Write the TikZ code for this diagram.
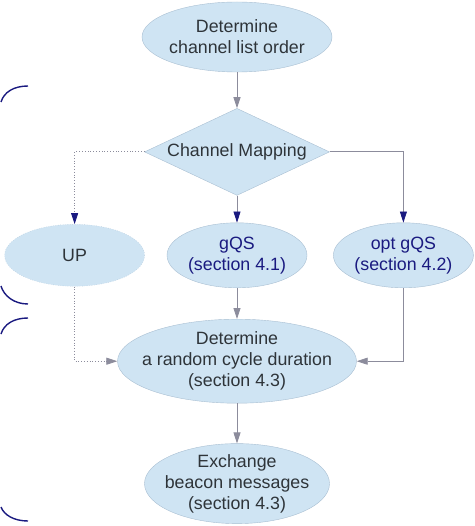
\documentclass[tikz,border=0pt]{standalone}
\usepackage{fontspec}
\setmainfont{Liberation Sans}
\usepackage{xcolor}
\usetikzlibrary{shapes.geometric, positioning, arrows.meta}

\definecolor{boxfill}{HTML}{CFE4F3}
\definecolor{boxline}{HTML}{A9BFD2}
\definecolor{txtgrey}{HTML}{2E3439}
\definecolor{navytxt}{HTML}{1A1A80}
\definecolor{linegrey}{HTML}{8C8C9C}

\tikzset{
    process/.style={ellipse, draw=boxline, fill=boxfill, text=txtgrey, align=center,
        inner xsep=-15pt, inner ysep=-6pt, font=\fontsize{17.8}{21}\selectfont},
    decision/.style={diamond, draw=boxline, fill=boxfill, text=txtgrey, align=center,
        inner sep=0pt, aspect=2.13, minimum width=185pt, minimum height=87pt,
        font=\fontsize{17.8}{21}\selectfont},
    flow/.style={draw=linegrey, line width=0.8pt, -{Triangle[length=11pt,width=7pt]}},
    flownavy/.style={flow, -{Triangle[length=11pt,width=7pt,color=navytxt]}},
    brace/.style={draw=navytxt, line width=1.4pt},
}

\begin{document}
\begin{tikzpicture}[x=1pt, y=-1pt, node distance=30pt]
    \useasboundingbox (0,0) rectangle (474,526);

    % Ablauf
    \node[process, minimum width=190pt, minimum height=70pt] (order) at (237,37)
        {Determine\\channel list order};
    \node[decision] (map) [below=36pt of order] {Channel Mapping};
    \node[process, minimum width=140pt, minimum height=65pt, text=navytxt] (gqs)
        [below=27pt of map] {gQS\\(section 4.1)};
    \node[process, minimum width=140pt, minimum height=62pt, dotted] (up)
        [left=22pt of gqs] {UP};
    \node[process, minimum width=140pt, minimum height=65pt, text=navytxt] (opt)
        [right=26pt of gqs] {opt gQS\\(section 4.2)};
    \node[process, minimum width=239pt, minimum height=84pt] (cycle)
        [below=31pt of gqs] {Determine\\a random cycle duration\\(section 4.3)};
    \node[process, minimum width=185pt, minimum height=80pt] (beacon)
        [below=40pt of cycle] {Exchange\\beacon messages\\(section 4.3)};

    % Verbindungen
    \draw[flow] (order) -- (map);
    \draw[flownavy, dotted] (map.west) -| (up.north);
    \draw[flownavy] (map) -- (gqs);
    \draw[flownavy] (map.east) -| (opt.north);
    \draw[flow, dotted] (up.south) |- (cycle.west);
    \draw[flow] (gqs) -- (cycle);
    \draw[flow] (opt.south) |- (cycle.east);
    \draw[flow] (cycle) -- (beacon);

    % Klammern am Rand
    \draw[brace] (28,86) .. controls (14,86) and (4,92) .. (1,102);
    \draw[brace] (1,286) .. controls (4,296) and (14,304) .. (28,304);
    \draw[brace] (28,318) .. controls (14,318) and (4,324) .. (1,334);
    \draw[brace] (1,507) .. controls (4,515) and (14,521) .. (28,521);
\end{tikzpicture}
\end{document}
